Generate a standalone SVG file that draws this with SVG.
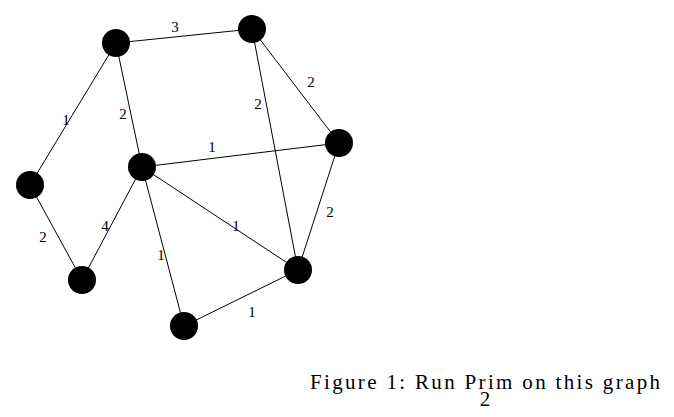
<svg xmlns="http://www.w3.org/2000/svg" width="674" height="417" viewBox="0 0 674 417">
<style>
.e{stroke:#000;stroke-width:1;fill:none}
.n{fill:#000}
.l{font-family:"Liberation Serif",serif;font-size:15px;fill:#000;text-anchor:middle}
.c{font-family:"Liberation Serif",serif;font-size:21px;fill:#000}
</style>
<rect width="674" height="417" fill="#fff"/>
<g id="edges">
<line class="e" x1="116" y1="43" x2="252" y2="29"/>
<line class="e" x1="252" y1="29" x2="339" y2="143"/>
<line class="e" x1="252" y1="29" x2="298" y2="270"/>
<line class="e" x1="116" y1="43" x2="30" y2="185"/>
<line class="e" x1="116" y1="43" x2="142" y2="167"/>
<line class="e" x1="142" y1="167" x2="339" y2="143"/>
<line class="e" x1="142" y1="167" x2="82" y2="280"/>
<line class="e" x1="30" y1="185" x2="82" y2="280"/>
<line class="e" x1="142" y1="167" x2="298" y2="270"/>
<line class="e" x1="339" y1="143" x2="298" y2="270"/>
<line class="e" x1="142" y1="167" x2="184" y2="326"/>
<line class="e" x1="184" y1="326" x2="298" y2="270"/>
<text class="l" x="175" y="32">3</text>
<text class="l" x="311" y="87">2</text>
<text class="l" x="258" y="109">2</text>
<text class="l" x="66" y="125">1</text>
<text class="l" x="123" y="119">2</text>
<text class="l" x="212" y="152">1</text>
<text class="l" x="105" y="231">4</text>
<text class="l" x="43" y="242">2</text>
<text class="l" x="236" y="231">1</text>
<text class="l" x="330" y="217">2</text>
<text class="l" x="161" y="260">1</text>
<text class="l" x="252" y="317">1</text>
</g>
<g id="nA"><circle class="n" cx="116" cy="43" r="14"/></g>
<g id="nB"><circle class="n" cx="252" cy="29" r="14"/></g>
<g id="nC"><circle class="n" cx="339" cy="143" r="14"/></g>
<g id="nD"><circle class="n" cx="142" cy="167" r="14"/></g>
<g id="nE"><circle class="n" cx="30" cy="185" r="14"/></g>
<g id="nF"><circle class="n" cx="82" cy="280" r="14"/></g>
<g id="nG"><circle class="n" cx="298" cy="270" r="14"/></g>
<g id="nH"><circle class="n" cx="184" cy="326" r="14"/></g>
<text class="c" x="310" y="389" textLength="350" lengthAdjust="spacing">Figure 1:  Run Prim on this graph</text>
<text class="c" x="485" y="406" text-anchor="middle">2</text>
</svg>
